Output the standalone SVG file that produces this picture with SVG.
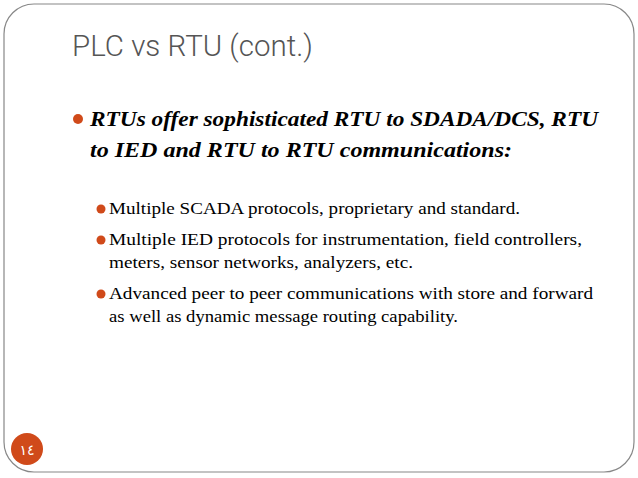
<svg xmlns="http://www.w3.org/2000/svg" width="638" height="478" viewBox="0 0 638 478">
<style>
.t{font-family:Roboto,"Liberation Sans",sans-serif;font-weight:300;font-size:29px;fill:#555}
.b1{font-family:"Liberation Serif",serif;font-weight:bold;font-style:italic;font-size:21px;fill:#000}
.b2{font-family:"Liberation Serif",serif;font-size:17.5px;fill:#000}
.d{fill:#d04a1a}
</style>
<rect width="638" height="478" fill="#fff"/>
<rect x="4" y="4" width="630" height="468" rx="30" fill="none" stroke="#888" stroke-width="1.2"/>
<text class="t" x="72" y="56" textLength="241" lengthAdjust="spacingAndGlyphs">PLC vs RTU (cont.)</text>
<circle class="d" cx="78" cy="119" r="5"/>
<text class="b1" x="90" y="126" textLength="508" lengthAdjust="spacingAndGlyphs">RTUs offer sophisticated RTU to SDADA/DCS, RTU</text>
<text class="b1" x="90" y="157" textLength="422" lengthAdjust="spacingAndGlyphs">to IED and RTU to RTU communications:</text>
<g class="d">
<circle cx="101" cy="209" r="4.5"/>
<circle cx="101" cy="240" r="4.5"/>
<circle cx="101" cy="294" r="4.5"/>
</g>
<text class="b2" x="109" y="214" textLength="411" lengthAdjust="spacingAndGlyphs">Multiple SCADA protocols, proprietary and standard.</text>
<text class="b2" x="109" y="245" textLength="473" lengthAdjust="spacingAndGlyphs">Multiple IED protocols for instrumentation, field controllers,</text>
<text class="b2" x="109" y="268" textLength="304" lengthAdjust="spacingAndGlyphs">meters, sensor networks, analyzers, etc.</text>
<text class="b2" x="109" y="299" textLength="484" lengthAdjust="spacingAndGlyphs">Advanced peer to peer communications with store and forward</text>
<text class="b2" x="109" y="322" textLength="349" lengthAdjust="spacingAndGlyphs">as well as dynamic message routing capability.</text>
<g id="pagenum">
<circle class="d" cx="27" cy="449" r="16"/>
<text x="27" y="455" text-anchor="middle" font-family="DejaVu Sans,sans-serif" font-size="14" fill="#fff">١٤</text>
</g>
</svg>
